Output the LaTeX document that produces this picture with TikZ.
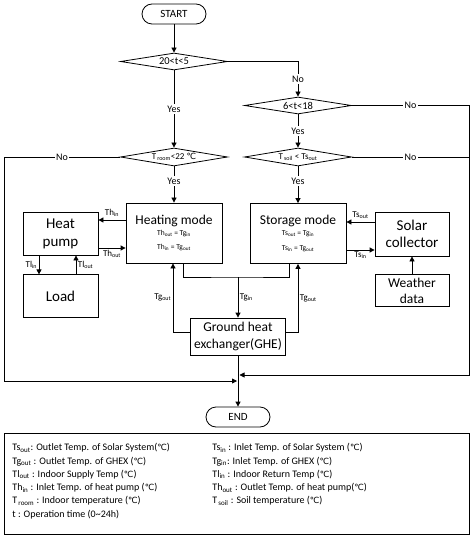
\documentclass[tikz,border=0pt]{standalone}
\usepackage{fontspec}
\setmainfont{Carlito}
\newfontfamily\symf{DejaVu Sans}
\newcommand{\degc}{{\symf\fontsize{8.5}{10}\selectfont ℃}}
\usetikzlibrary{arrows.meta,shapes.geometric,positioning}

\begin{document}
\begin{tikzpicture}[x=1pt, y=-1pt, line width=0.8pt,
  arr/.style={-{Triangle[length=5pt,width=5pt]}},
  term/.style={draw, rounded corners=10pt, minimum width=64pt,
    minimum height=20pt, font=\fontsize{11}{13}\selectfont},
  dec/.style={draw, diamond, aspect=6.3, inner sep=0pt,
    minimum width=107pt, minimum height=17pt, font=\fontsize{10.5}{12}\selectfont},
  box/.style={draw, align=center, inner sep=2pt},
  mode/.style={box, minimum width=96pt, minimum height=60pt,
    font=\fontsize{13.5}{11}\selectfont},
  lbl/.style={fill=white, inner sep=1.5pt, font=\fontsize{10}{12}\selectfont},
  tag/.style={inner sep=1.5pt, font=\fontsize{9}{10}\selectfont}
]
  \useasboundingbox (0,0) rectangle (474,537);

  \node[term] (start) at (174,14) {START};
  \node[dec] (d1) at (174,61.5) {20<t<5};
  \node[dec] (d2) at (298,105.5) {6<t<18};
  \node[dec, minimum height=18pt, font=\fontsize{9}{10}\selectfont] (troom)
    at (174,157) {T\textsubscript{\,room}<22 \degc};
  \node[dec, minimum height=18pt, font=\fontsize{9}{10}\selectfont] (tsoil)
    at (298,157) {T\textsubscript{\,soil} < Ts\textsubscript{out}};

  \node[mode] (heat) at (174,233) {Heating mode\\
    {\fontsize{7.5}{8}\selectfont Th\textsubscript{out} = Tg\textsubscript{in}}\\[3.5pt]
    {\fontsize{7.5}{8}\selectfont Th\textsubscript{in} = Tg\textsubscript{out}}};
  \node[mode] (stor) at (298,233.5) {Storage mode\\
    {\fontsize{7.5}{8}\selectfont Ts\textsubscript{out} = Tg\textsubscript{in}}\\[3.5pt]
    {\fontsize{7.5}{8}\selectfont Ts\textsubscript{in} = Tg\textsubscript{out}}};

  \node[box, minimum width=75pt, minimum height=43pt,
    font=\fontsize{15}{18}\selectfont] (hp) at (60.5,233.5) {Heat\\pump};
  \node[box, minimum width=75pt, minimum height=43pt,
    font=\fontsize{15}{18}\selectfont, below=19pt of hp] (load) {Load};
  \node[box, minimum width=74pt, minimum height=44pt,
    font=\fontsize{15}{17.5}\selectfont] (solar) at (412,234) {Solar\\collector};
  \node[box, minimum width=74pt, minimum height=32pt,
    font=\fontsize{13.5}{16}\selectfont, below=18pt of solar] (weather) {Weather\\data};
  \node[box, minimum width=95pt, minimum height=37pt,
    font=\fontsize{13.5}{17}\selectfont] (ghe) at (238,336.5)
    {Ground heat\\exchanger(GHE)};
  \node[term] (end) at (238,417) {END};

  \coordinate (edgeL) at (4,0);
  \coordinate (edgeR) at (469,0);
  \coordinate (joinL) at (237,381);
  \coordinate (joinR) at (239.5,375);
  \coordinate (split) at (238,277);

  \draw[arr] (start) -- (d1);
  \draw[arr] (d1) -- node[lbl]{Yes} (troom);
  \draw[arr] (d1.east) -| node[lbl, pos=0.75]{No} (d2.north);
  \draw[arr] (d2) -- node[lbl]{Yes} (tsoil);
  \draw[arr] (troom) -- node[lbl, pos=0.4]{Yes} (heat);
  \draw[arr] (tsoil) -- node[lbl, pos=0.4]{Yes} (stor);
  \draw[arr] (d2.east) -- node[lbl]{No} (d2.east -| edgeR) |- (joinR);
  \draw (tsoil.east) -- node[lbl]{No} (tsoil.east -| edgeR);
  \draw[arr] (troom.west) -- node[lbl]{No} (troom.west -| edgeL) |- (joinL);

  \draw[arr] ([yshift=13pt]heat.west) -- node[tag, above=2pt]{Th\textsubscript{in}}
    ([yshift=13pt]heat.west -| hp.east);
  \draw[arr] ([yshift=-14.5pt]hp.east) -- node[tag, below]{Th\textsubscript{out}}
    ([yshift=-14.5pt]hp.east -| heat.west);
  \draw[arr] ([xshift=-21.5pt]hp.south) -- node[tag, left]{Tl\textsubscript{in}}
    ([xshift=-21.5pt]hp.south |- load.north);
  \draw[arr] ([xshift=15.5pt]load.north) -- node[tag, right]{Tl\textsubscript{out}}
    ([xshift=15.5pt]load.north |- hp.south);

  \draw[arr] ([yshift=12pt]solar.west) -- node[tag, above=2pt]{Ts\textsubscript{out}}
    ([yshift=12pt]solar.west -| stor.east);
  \draw[arr] ([yshift=-16.5pt]stor.east) -- node[tag, below]{Ts\textsubscript{in}}
    ([yshift=-16.5pt]stor.east -| solar.west);
  \draw[arr] (weather) -- (solar);

  \draw ([xshift=9pt]heat.south) |- (split) -| ([xshift=-9pt]stor.south);
  \draw[arr] (split) -- node[tag, right]{Tg\textsubscript{in}} (ghe);
  \draw[arr] ([yshift=4.5pt]ghe.west) -| node[tag, left, pos=0.75]{Tg\textsubscript{out}}
    ([xshift=-1pt]heat.south);
  \draw[arr] ([yshift=4.5pt]ghe.east) -| node[tag, right, pos=0.75]{Tg\textsubscript{out}}
    (stor.south);
  \draw[arr] (ghe) -- (end);

  \node[draw, anchor=north west, inner sep=0pt, minimum width=465pt,
    minimum height=101pt] (legend) at (4,433) {};
  \node[anchor=north west, align=left, inner sep=0pt,
    font=\fontsize{10}{13.3}\selectfont] (keysL) at (12,443)
    {Ts\textsubscript{out}: Outlet Temp. of Solar System(\degc)\\
     Tg\textsubscript{out} : Outlet Temp. of GHEX (\degc)\\
     Tl\textsubscript{out} : Indoor Supply Temp (\degc)\\
     Th\textsubscript{in} : Inlet Temp. of heat pump (\degc)\\
     T\textsubscript{\,room} : Indoor temperature (\degc)\\
     t : Operation time (0\textasciitilde 24h)};
  \node[anchor=north west, align=left, inner sep=0pt,
    font=\fontsize{10}{13.3}\selectfont] (keysR) at (212,443)
    {Ts\textsubscript{in} : Inlet Temp. of Solar System (\degc)\\
     Tg\textsubscript{in}: Inlet Temp. of GHEX (\degc)\\
     Tl\textsubscript{in} : Indoor Return Temp (\degc)\\
     Th\textsubscript{out} : Outlet Temp. of heat pump(\degc)\\
     T\textsubscript{\,soil} : Soil temperature (\degc)};
\end{tikzpicture}
\end{document}
